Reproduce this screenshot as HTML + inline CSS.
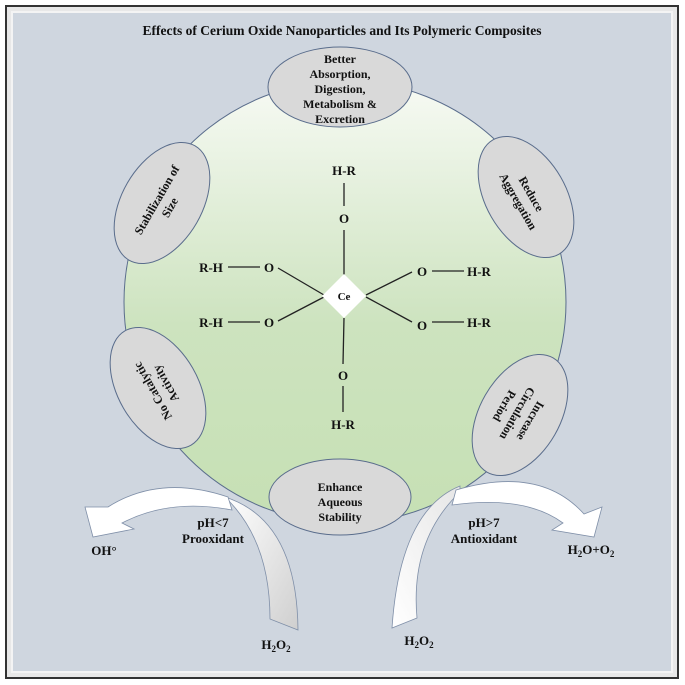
<!DOCTYPE html>
<html><head><meta charset="utf-8"><style>
html,body{margin:0;padding:0;background:#fff;}
svg{display:block;}
text{font-family:"Liberation Serif",serif;font-weight:bold;fill:#111;}
</style></head><body>
<svg width="685" height="685" viewBox="0 0 685 685" xmlns="http://www.w3.org/2000/svg">
<defs>
<linearGradient id="g" x1="0" y1="0" x2="0" y2="1">
<stop offset="0" stop-color="#f7faf4"/><stop offset="0.55" stop-color="#cde3bf"/><stop offset="1" stop-color="#c6e0b4"/>
</linearGradient>
<linearGradient id="ga" x1="0" y1="0" x2="1" y2="1">
<stop offset="0" stop-color="#ffffff"/><stop offset="1" stop-color="#cfcfcf"/>
</linearGradient>
<linearGradient id="gb" x1="1" y1="0" x2="0" y2="1">
<stop offset="0" stop-color="#e6e6e6"/><stop offset="1" stop-color="#ffffff"/>
</linearGradient>
</defs>
<rect x="0" y="0" width="685" height="685" fill="#fff"/>
<rect x="6" y="6" width="672" height="672" fill="#e8e8e8" stroke="#333" stroke-width="2"/>
<rect x="12" y="12" width="660" height="660" fill="#cfd6df" stroke="#f4f4f4" stroke-width="2"/>
<text x="342" y="35" font-size="13.5" text-anchor="middle">Effects of Cerium Oxide Nanoparticles and Its Polymeric Composites</text>
<circle cx="345" cy="302" r="221" fill="url(#g)" stroke="#5a6d8c" stroke-width="1"/>
<g stroke="#222" stroke-width="1.3">
<line x1="344" y1="183" x2="344" y2="206"/>
<line x1="344" y1="230" x2="344" y2="276"/>
<line x1="344" y1="318" x2="343" y2="364"/>
<line x1="343" y1="386" x2="343" y2="412"/>
<line x1="228" y1="267" x2="260" y2="267"/>
<line x1="228" y1="322" x2="260" y2="322"/>
<line x1="432" y1="271" x2="464" y2="271"/>
<line x1="432" y1="322" x2="464" y2="322"/>
<line x1="278" y1="268" x2="324" y2="295"/>
<line x1="278" y1="321" x2="324" y2="297"/>
<line x1="366" y1="295" x2="412" y2="272"/>
<line x1="366" y1="297" x2="412" y2="322"/>
</g>
<polygon points="344,274 366,296 344,318 322,296" fill="#fff"/>
<g font-size="13">
<text x="344" y="300" text-anchor="middle" font-size="11">Ce</text>
<text x="344" y="175" text-anchor="middle">H-R</text>
<text x="344" y="223" text-anchor="middle">O</text>
<text x="343" y="380" text-anchor="middle">O</text>
<text x="343" y="429" text-anchor="middle">H-R</text>
<text x="211" y="272" text-anchor="middle">R-H</text>
<text x="269" y="272" text-anchor="middle">O</text>
<text x="211" y="327" text-anchor="middle">R-H</text>
<text x="269" y="327" text-anchor="middle">O</text>
<text x="422" y="276" text-anchor="middle">O</text>
<text x="479" y="276" text-anchor="middle">H-R</text>
<text x="422" y="330" text-anchor="middle">O</text>
<text x="479" y="327" text-anchor="middle">H-R</text>
</g>
<g fill="#d9d9d9" stroke="#5a6d8c" stroke-width="1">
<ellipse cx="340" cy="87" rx="72" ry="40"/>
<ellipse cx="340" cy="497" rx="71" ry="38"/>
<ellipse cx="162" cy="203" rx="40" ry="66" transform="rotate(30 162 203)"/>
<ellipse cx="526" cy="197" rx="40" ry="66" transform="rotate(-30 526 197)"/>
<ellipse cx="158" cy="388" rx="40" ry="66" transform="rotate(-30 158 388)"/>
<ellipse cx="520" cy="415" rx="40" ry="66" transform="rotate(30 520 415)"/>
</g>
<g font-size="12" text-anchor="middle">
<text x="340" y="63">Better</text>
<text x="340" y="78">Absorption,</text>
<text x="340" y="93">Digestion,</text>
<text x="340" y="108">Metabolism &amp;</text>
<text x="340" y="123">Excretion</text>
<text x="340" y="491">Enhance</text>
<text x="340" y="506">Aqueous</text>
<text x="340" y="521">Stability</text>
<g transform="translate(162,203) rotate(-60)"><text x="0" y="-2">Stabilization of</text><text x="0" y="13">Size</text></g>
<g transform="translate(526,197) rotate(60)"><text x="0" y="-2">Reduce</text><text x="0" y="13">Aggregation</text></g>
<g transform="translate(158,388) rotate(-120)"><text x="0" y="-2">No Catalytic</text><text x="0" y="13">Activity</text></g>
<g transform="translate(520,415) rotate(120)"><text x="0" y="-8">Increase</text><text x="0" y="7">Circulation</text><text x="0" y="22">Period</text></g>
</g>
<path d="M225,497 Q297,520 298,630 L270,619 Q270,540 225,497 Z" fill="url(#ga)" stroke="#7f8fa8" stroke-width="0.8"/>
<path d="M228,497 Q160,474 108,507 L85,507 L93,537 L134,529 L122,523 Q170,498 232,510 Z" fill="#fff" stroke="#7f8fa8" stroke-width="0.8"/>
<path d="M460,486 Q400,510 392,628 L417,618 Q410,540 460,492 Z" fill="url(#gb)" stroke="#7f8fa8" stroke-width="0.8"/>
<path d="M456,490 Q540,465 584,514 L602,507 L594,537 L552,530 L563,523 Q525,495 452,505 Z" fill="#fff" stroke="#7f8fa8" stroke-width="0.8"/>
<g font-size="13" text-anchor="middle">
<text x="213" y="527">pH&lt;7</text>
<text x="213" y="543">Prooxidant</text>
<text x="104" y="555">OH°</text>
<text x="276" y="649">H<tspan font-size="9" dy="3">2</tspan><tspan dy="-3">O</tspan><tspan font-size="9" dy="3">2</tspan></text>
<text x="484" y="527">pH&gt;7</text>
<text x="484" y="543">Antioxidant</text>
<text x="591" y="554">H<tspan font-size="9" dy="3">2</tspan><tspan dy="-3">O+O</tspan><tspan font-size="9" dy="3">2</tspan></text>
<text x="419" y="645">H<tspan font-size="9" dy="3">2</tspan><tspan dy="-3">O</tspan><tspan font-size="9" dy="3">2</tspan></text>
</g>
</svg>
</body></html>
